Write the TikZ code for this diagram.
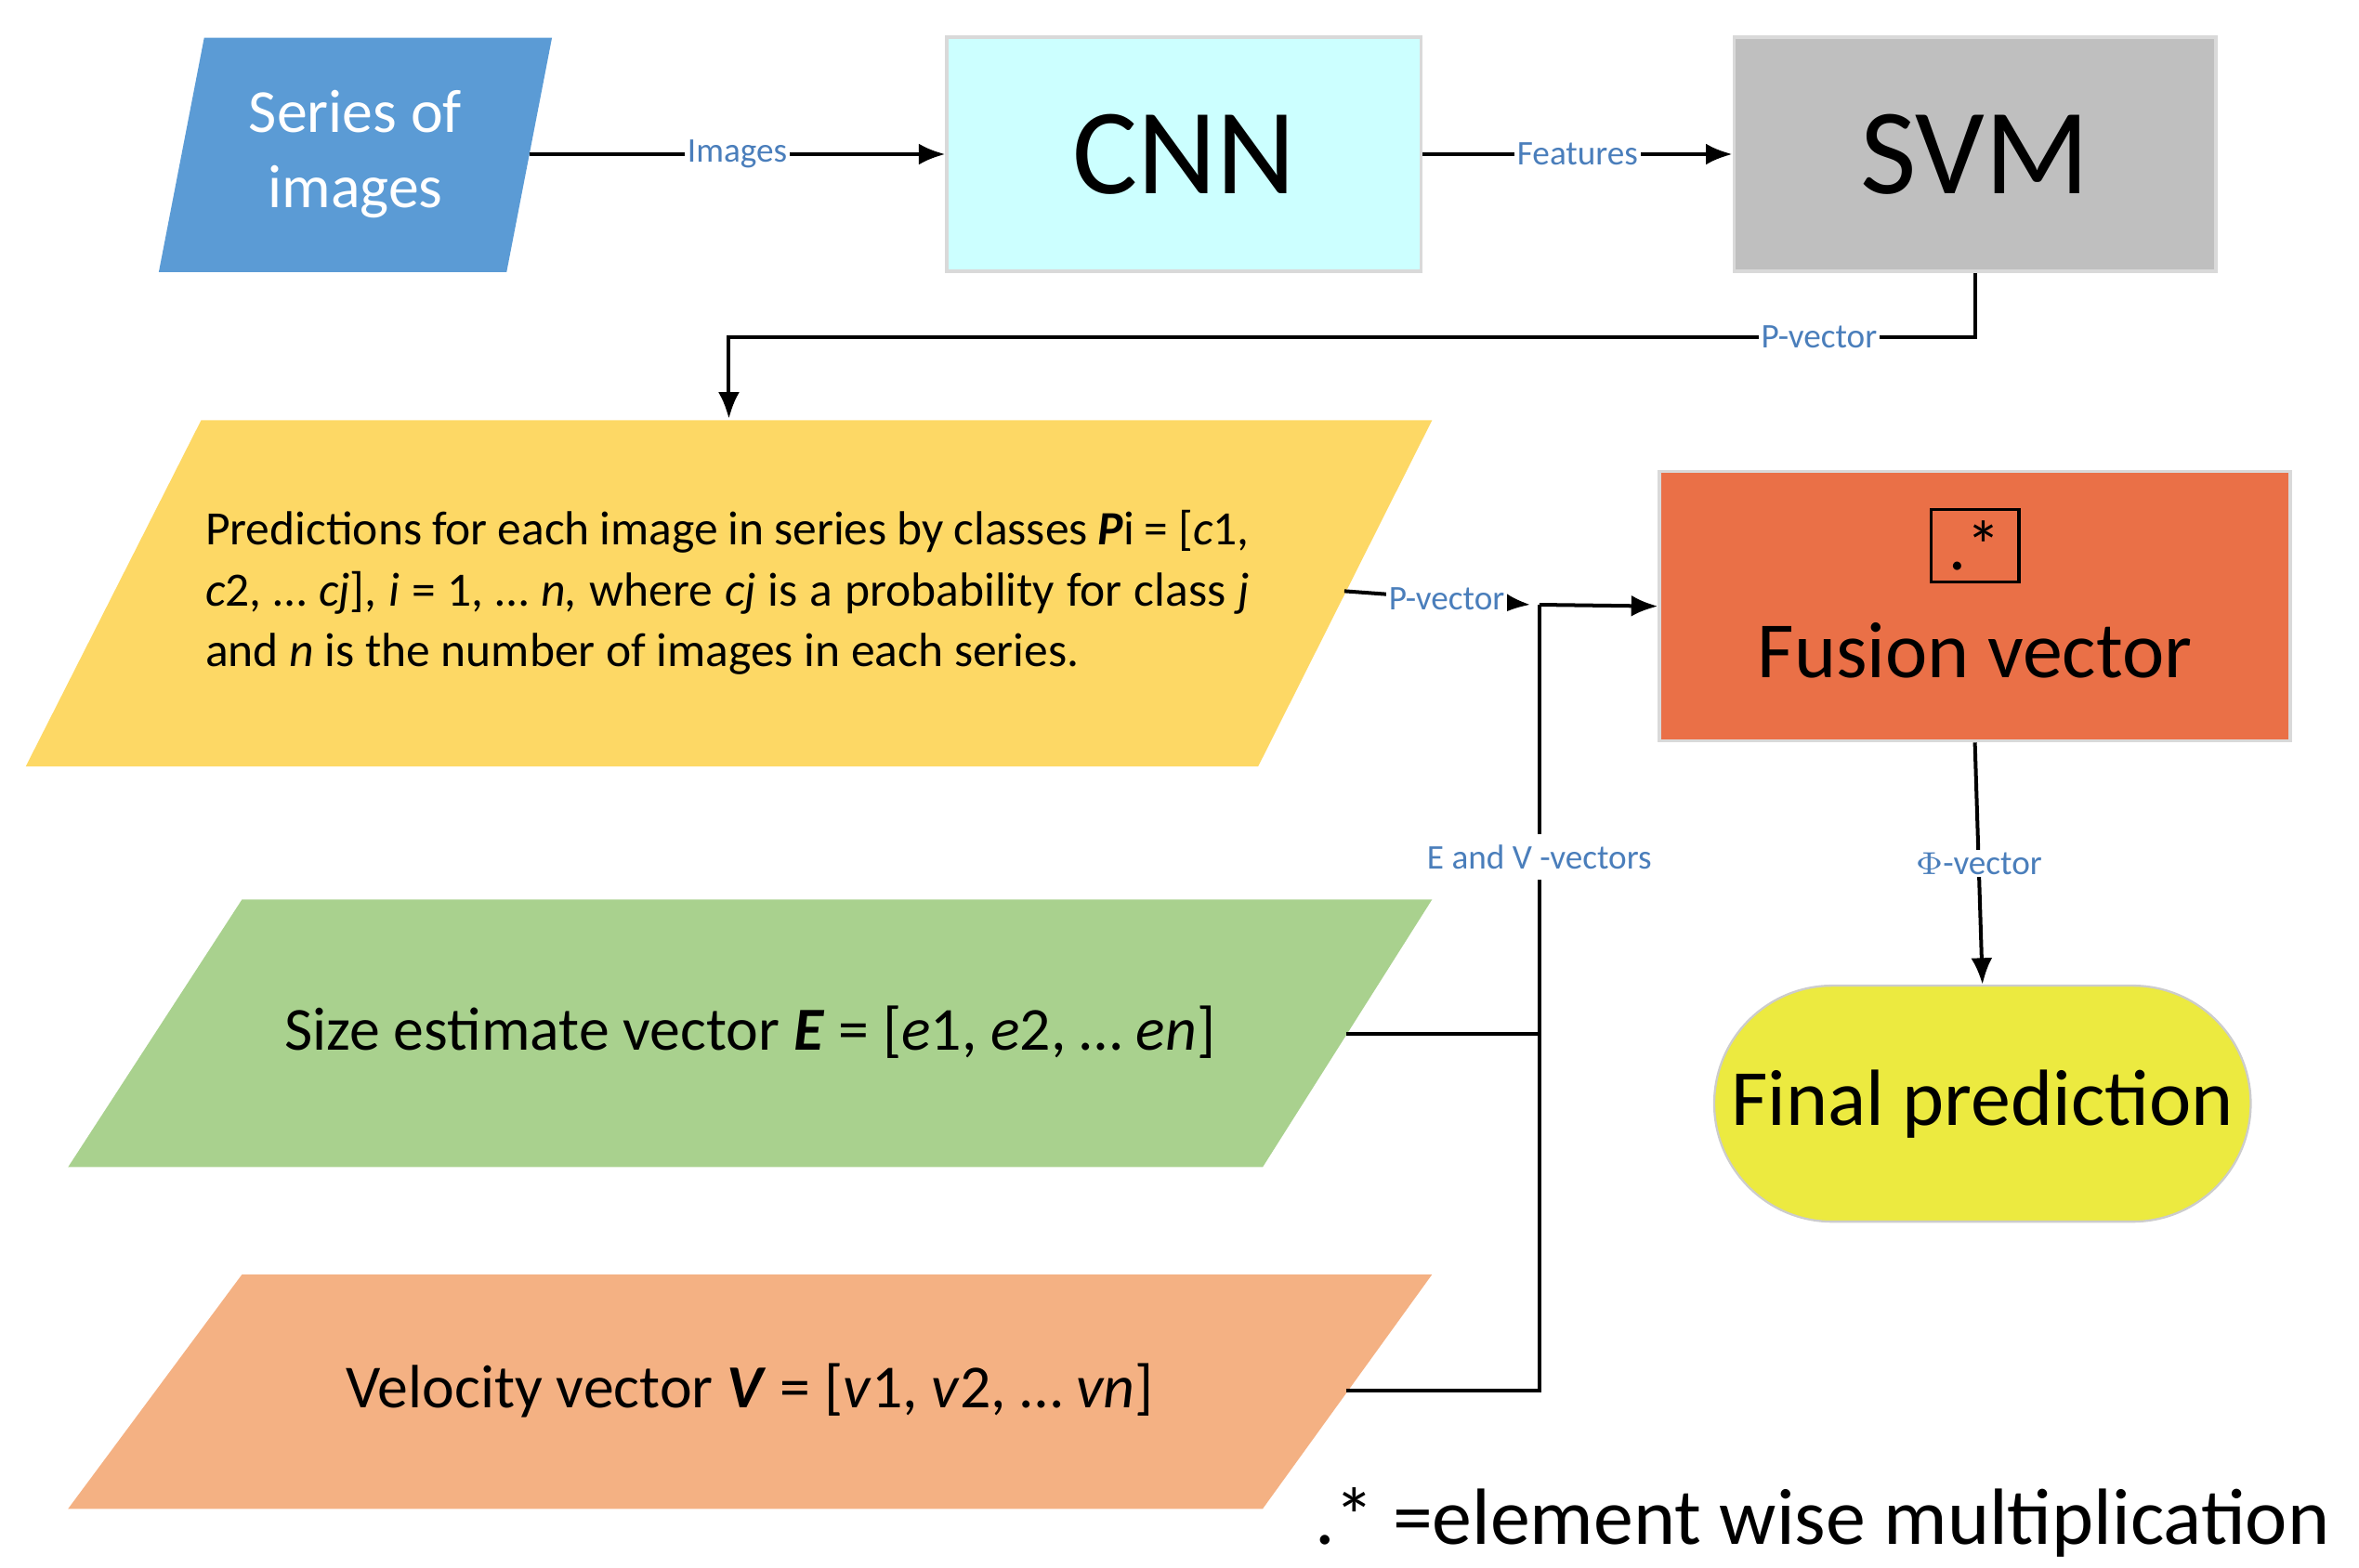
\documentclass[tikz,border=0pt]{standalone}
\usepackage{fontspec}
\setmainfont{Carlito}
\usetikzlibrary{arrows.meta,shapes.misc}
\definecolor{labblue}{HTML}{4A7EBB}
\definecolor{serblue}{RGB}{91,155,213}
\definecolor{cnncol}{RGB}{204,255,255}
\definecolor{svmcol}{RGB}{191,191,191}
\definecolor{predcol}{RGB}{253,216,101}
\definecolor{sizecol}{RGB}{169,209,142}
\definecolor{velcol}{RGB}{244,177,131}
\definecolor{fuscol}{RGB}{234,112,71}
\definecolor{fincol}{RGB}{236,234,64}
\tikzset{
  box/.style={draw=white!85!black,line width=0.6pt},
  lab/.style={font=\fontsize{6.5}{7}\selectfont,text=labblue,fill=white,inner sep=0.5pt},
  con/.style={line width=0.7pt},
  arr/.style={con,-{Latex[length=5pt,width=4pt]}},
}
\begin{document}
\begin{tikzpicture}[x=0.01cm,y=-0.01cm]
  \useasboundingbox (0,0) rectangle (1560,1037);
  % top row
  \fill[serblue] (135,25) -- (365,25) -- (335,180) -- (105,180) -- cycle;
  \node[text=white,align=center,font=\fontsize{11.5}{14}\selectfont] (series) at (235,102) {Series of\\images};
  \node[box,fill=cnncol,text width=2.9cm,minimum height=1.55cm,align=center,font=\fontsize{23}{26}\selectfont] (cnn) at (783,102) {CNN};
  \node[box,fill=svmcol,text width=2.95cm,minimum height=1.55cm,align=center,font=\fontsize{23}{26}\selectfont] (svm) at (1306,102) {SVM};
  \coordinate (sOut) at (350,102);
  \draw[arr] (sOut) -- node[lab]{Images} (cnn.west);
  \draw[arr] (cnn.east) -- node[lab]{Features} (svm.west);
  % predictions
  \fill[predcol] (133,278) -- (947,278) -- (832,507) -- (17,507) -- cycle;
  \node[text width=6.9cm,align=justify,font=\fontsize{9}{11.4}\selectfont] (pred) at (481,392)
    {Predictions for each image in series by classes \textbf{\textit{P}}i = [\textit{c}1, \textit{c}2, \dots\ \textit{cj}], \textit{i} = 1, \dots\ \textit{n,} where \textit{cj} is a probability for class \textit{j} and \textit{n} is the number of images in each series.};
  \coordinate (pTop) at (482,277);
  \draw[arr] (svm.south) |- (1100,223) node[lab,pos=0.75]{P-vector} -| (pTop);
  % size and velocity
  \fill[sizecol] (160,595) -- (947,595) -- (835,772) -- (45,772) -- cycle;
  \node[font=\fontsize{11.5}{14}\selectfont] (size) at (496,683) {Size estimate vector \textbf{\textit{E}} = [\textit{e}1, \textit{e}2, \dots\ \textit{en}]};
  \fill[velcol] (160,843) -- (947,843) -- (835,998) -- (45,998) -- cycle;
  \node[font=\fontsize{11.5}{14}\selectfont] (vel) at (496,920) {Velocity vector \textbf{\textit{V}} = [\textit{v}1, \textit{v}2, \dots\ \textit{vn}]};
  % fusion
  \node[box,fill=fuscol,minimum width=4.17cm,minimum height=1.78cm] (fus) at (1306,401) {};
  \node[draw,line width=0.6pt,minimum width=0.58cm,minimum height=0.48cm,font=\fontsize{13}{14}\selectfont,inner sep=0pt] (mul) at (1306,361) {.*};
  \node[font=\fontsize{15}{18}\selectfont] (fusText) at (1306,430) {Fusion vector};
  \node[draw=white!80!black,fill=fincol,rounded rectangle,minimum width=3.78cm,minimum height=1.56cm,font=\fontsize{15}{18}\selectfont] (final) at (1311,730) {Final prediction};
  \draw[arr] (fus.south) -- node[lab]{$\Phi$-vector} (final.north);
  % joins
  \coordinate (pOut) at (889,391);
  \coordinate (eOut) at (890,684);
  \coordinate (vOut) at (890,920);
  \coordinate (jn) at (1018,400);
  \coordinate (jp) at (1012,400);
  \draw[arr] (pOut) -- node[lab,pos=0.55,above=-3pt]{P-vector} (jp);
  \draw[con] (eOut) -- (1018,684);
  \draw[con] (vOut) -| (jn);
  \node[lab,fill=white,inner sep=2pt] (ev) at (1018,567) {E and V -vectors};
  \draw[arr] (jn) -- (fus.west);
  \node[anchor=east,font=\fontsize{15}{18}\selectfont] (note) at (1553,1007) {.* =element wise multiplication};
\end{tikzpicture}
\end{document}
